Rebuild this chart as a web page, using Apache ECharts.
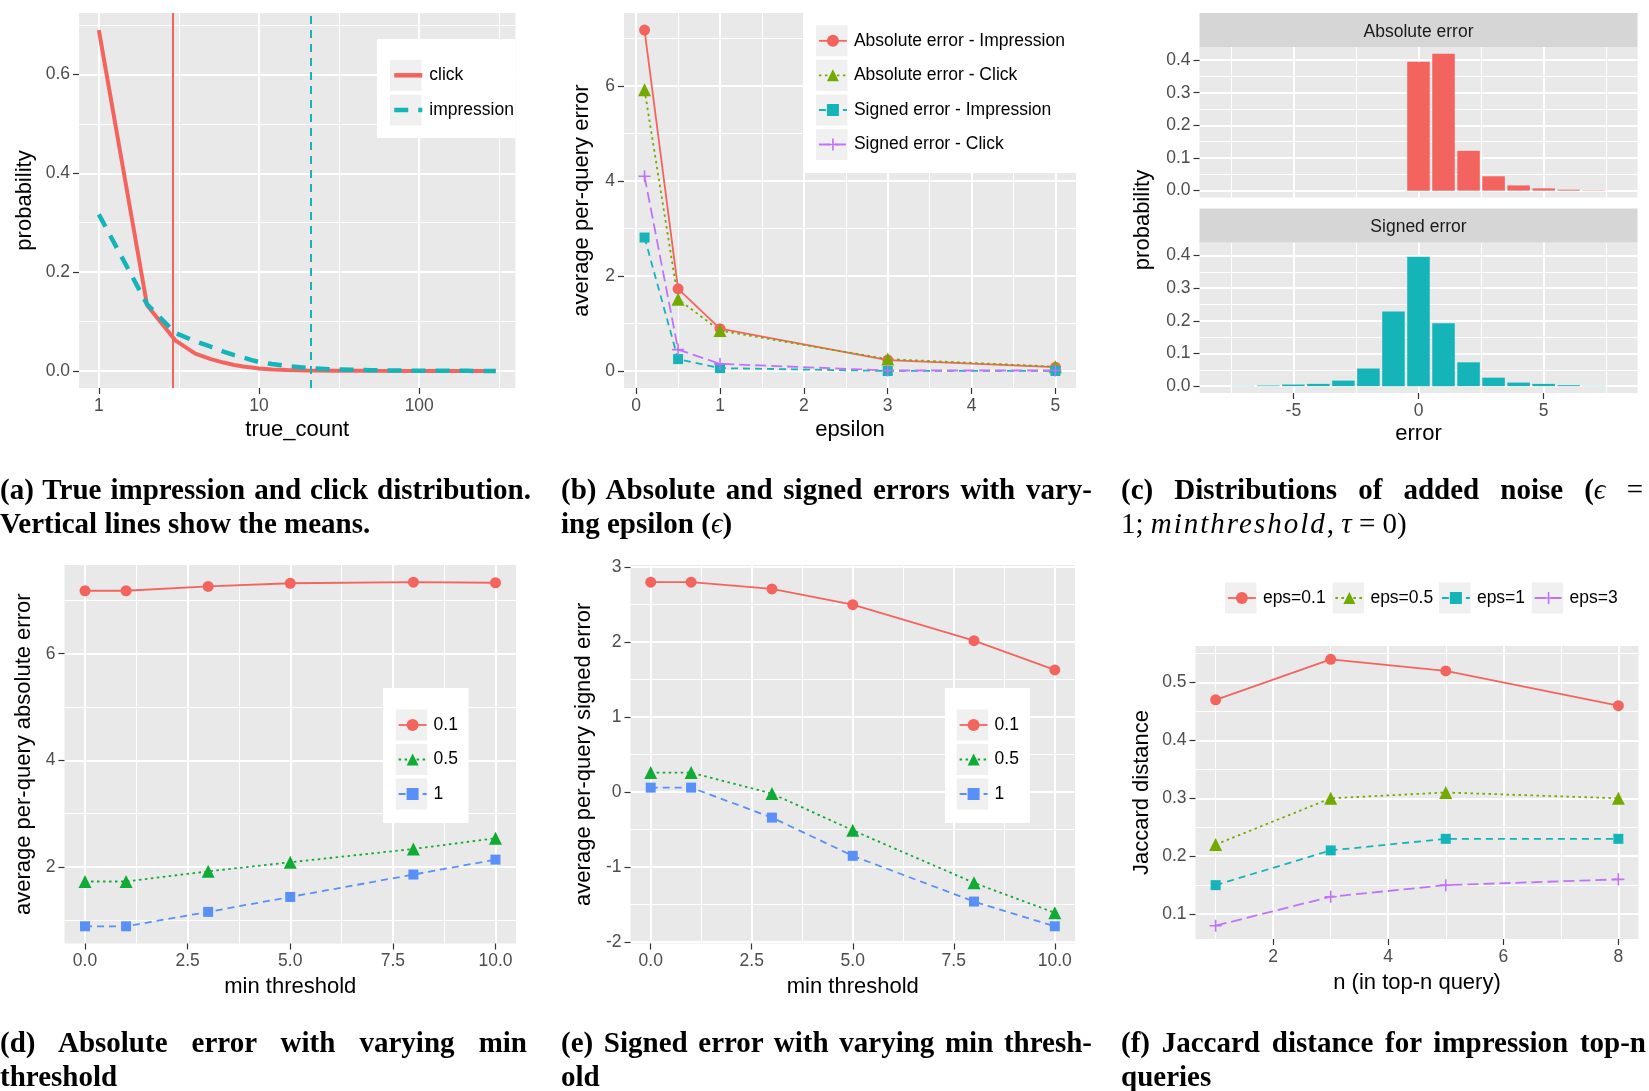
<!DOCTYPE html>
<html>
<head>
<meta charset="utf-8">
<title>noise figures</title>
<script src="https://cdn.jsdelivr.net/npm/echarts@6/dist/echarts.min.js"></script>
<style>
  html, body { margin: 0; padding: 0; background: #fff; }
  #chart { position: absolute; left: 0; top: 0; width: 1649px; height: 1091px; }
  .cap { position: absolute; font-family: 'Liberation Serif', 'DejaVu Serif', serif; font-weight: bold;
         font-size: 29px; line-height: 34px; color: #000; }
  .cap .l1 { text-align: justify; text-align-last: justify; white-space: nowrap; }
  .cap .l2 { white-space: nowrap; }
  .m { font-weight: normal; font-style: italic; }
  .mr { font-weight: normal; }
</style>
</head>
<body>
<div id="chart"></div>

<div class="cap" style="left:0px;top:472px;width:531px">
  <div class="l1">(a) True impression and click distribution.</div>
  <div class="l2">Vertical lines show the means.</div>
</div>
<div class="cap" style="left:561px;top:472px;width:531px">
  <div class="l1">(b) Absolute and signed errors with vary-</div>
  <div class="l2">ing epsilon (<span class="m">ϵ</span>)</div>
</div>
<div class="cap" style="left:1121px;top:472px;width:522px">
  <div class="l1">(c) Distributions of added noise (<span class="m">ϵ</span> <span class="mr">=</span></div>
  <div class="l2"><span class="mr">1;</span> <span class="m" style="letter-spacing:2px">minthreshold</span><span class="mr">,</span> <span class="m">τ</span> <span class="mr">= 0)</span></div>
</div>
<div class="cap" style="left:0px;top:1025px;width:527px">
  <div class="l1">(d) Absolute error with varying min</div>
  <div class="l2">threshold</div>
</div>
<div class="cap" style="left:561px;top:1025px;width:531px">
  <div class="l1">(e) Signed error with varying min thresh-</div>
  <div class="l2">old</div>
</div>
<div class="cap" style="left:1121px;top:1025px;width:525px">
  <div class="l1">(f) Jaccard distance for impression top-n</div>
  <div class="l2">queries</div>
</div>

<script>
// ---- (a) true count distribution
const aCount = [1, 2, 3, 4, 5, 6, 7, 8, 9, 10, 12, 15, 20, 30, 50, 100, 200, 300];
const aClick = [0.69, 0.133, 0.062, 0.035, 0.024, 0.017, 0.012, 0.009, 0.007, 0.005, 0.003, 0.002, 0.001, 0.0004, 0.0002, 0.0001, 0, 0];
const aImpression = [0.317, 0.135, 0.077, 0.06, 0.049, 0.039, 0.032, 0.027, 0.022, 0.018, 0.014, 0.010, 0.006, 0.003, 0.0015, 0.0005, 0.0002, 0];
const aMeans = [2.9, 21];            // click, impression
const aXTicks = [1, 10, 100];
const aXMinor = [3.162, 31.62, 316.2];
const aYTicks = [0, 0.2, 0.4, 0.6];
const aYMinor = [0.1, 0.3, 0.5, 0.7];

// ---- (b) error vs epsilon
const bEps = [0.1, 0.5, 1, 3, 5];
const bAbsImp = [7.18, 1.73, 0.89, 0.23, 0.08];
const bAbsClick = [5.92, 1.51, 0.85, 0.25, 0.09];
const bSignedImp = [2.81, 0.25, 0.06, 0.0, 0.0];
const bSignedClick = [4.1, 0.45, 0.15, 0.01, 0.01];
const bXTicks = [0, 1, 2, 3, 4, 5];
const bXMinor = [0.5, 1.5, 2.5, 3.5, 4.5];
const bYTicks = [0, 2, 4, 6];
const bYMinor = [1, 3, 5, 7];

// ---- (c) noise distributions
const cError = [-7, -6, -5, -4, -3, -2, -1, 0, 1, 2, 3, 4, 5, 6, 7];
const cAbsolute = [0, 0, 0, 0, 0, 0, 0, 0.395, 0.419, 0.122, 0.044, 0.016, 0.007, 0.003, 0.001];
const cSigned = [0.001, 0.002, 0.005, 0.007, 0.017, 0.054, 0.229, 0.396, 0.193, 0.073, 0.026, 0.011, 0.007, 0.003, 0.001];
const cXTicks = [-5, 0, 5];
const cXMinor = [-7.5, -2.5, 2.5, 7.5];
const cYTicks = [0, 0.1, 0.2, 0.3, 0.4];
const cYMinor = [0.05, 0.15, 0.25, 0.35];

// ---- (d), (e) min threshold
const thresholds = [0, 1, 3, 5, 8, 10];
const dEps01 = [7.18, 7.18, 7.26, 7.32, 7.34, 7.33];
const dEps05 = [1.73, 1.73, 1.92, 2.09, 2.34, 2.54];
const dEps1 = [0.89, 0.89, 1.16, 1.44, 1.86, 2.14];
const eEps01 = [2.80, 2.80, 2.71, 2.50, 2.02, 1.63];
const eEps05 = [0.26, 0.26, -0.02, -0.51, -1.21, -1.61];
const eEps1 = [0.06, 0.06, -0.34, -0.85, -1.46, -1.79];
const tXTicks = [0, 2.5, 5, 7.5, 10];
const tXMinor = [1.25, 3.75, 6.25, 8.75];
const dYTicks = [2, 4, 6];
const dYMinor = [1, 3, 5, 7];
const eYTicks = [-2, -1, 0, 1, 2, 3];
const eYMinor = [-1.5, -0.5, 0.5, 1.5, 2.5];

// ---- (f) jaccard distance
const topN = [1, 3, 5, 8];
const fEps01 = [0.47, 0.54, 0.52, 0.46];
const fEps05 = [0.22, 0.30, 0.31, 0.30];
const fEps1 = [0.15, 0.21, 0.23, 0.23];
const fEps3 = [0.08, 0.13, 0.15, 0.16];
const fXTicks = [2, 4, 6, 8];
const fXMinor = [1, 3, 5, 7];
const fYTicks = [0.1, 0.2, 0.3, 0.4, 0.5];
const fYMinor = [0.15, 0.25, 0.35, 0.45, 0.55];

// ---- styling
const FONT = '"Liberation Sans", Arial, sans-serif';
const COL = { red: '#F4645E', green: '#73AA00', teal: '#14B4B8', purple: '#C173F8', green3: '#10AB35', blue: '#5990F8' };
const PANEL = '#E9E9E9';
const PLUS = 'path://M5 0L5 10M0 5L10 5';
const LW = 1.8;

// panel rectangles: a, b, c-top, c-bottom, d, e, f
const panels = [
  { left: 79, top: 13, width: 436.5, height: 375 },
  { left: 624, top: 13, width: 452, height: 375 },
  { left: 1199.5, top: 47, width: 438, height: 150.5 },
  { left: 1199.5, top: 242.5, width: 438, height: 150.5 },
  { left: 64.5, top: 565, width: 451.5, height: 378.5 },
  { left: 630.5, top: 565, width: 444.5, height: 378.5 },
  { left: 1195.5, top: 646, width: 443, height: 293 }
];

// ggplot style 5% padding
function expand(lo, hi) {
  const r = hi - lo;
  return [lo - r * 0.05, hi + r * 0.05];
}
function expandLog(lo, hi) {
  const e = expand(Math.log10(lo), Math.log10(hi));
  return [Math.pow(10, e[0]), Math.pow(10, e[1])];
}
const ext = arrs => expand(Math.min(...arrs.flat()), Math.max(...arrs.flat()));
const pts = (xs, ys) => xs.map((x, i) => [x, ys[i]]);
const fix1 = v => v.toFixed(1);

const xAxes = [];
const yAxes = [];

// one axis carrying ticks/labels/major grid, and a silent twin for minor grid
function addAxis(list, o) {
  const idx = list.length;
  const base = { type: o.type || 'value', gridIndex: o.grid, min: o.range[0], max: o.range[1], position: o.pos };
  if (o.type === 'log') base.logBase = 10;
  const show = o.labels !== false;
  list.push(Object.assign({}, base, {
    axisLine: { show: false, onZero: false },
    axisTick: { show: show, length: 6, lineStyle: { color: '#333333', width: 1.2 }, customValues: o.ticks },
    axisLabel: { show: show, customValues: o.ticks, formatter: o.fmt || (v => String(v)),
                 color: '#4D4D4D', fontSize: 17.5, fontFamily: FONT, margin: 9 },
    splitLine: { show: true, lineStyle: { color: '#FFFFFF', width: 2 } },
    name: o.name || '', nameLocation: 'middle', nameGap: o.gap || 0, nameMoveOverlap: false,
    nameTextStyle: { fontSize: 22, color: '#000000', fontFamily: FONT }
  }));
  list.push(Object.assign({}, base, {
    axisLine: { show: false, onZero: false },
    axisTick: { show: false, customValues: o.minor },
    axisLabel: { show: false },
    splitLine: { show: true, lineStyle: { color: '#FFFFFF', width: 1 } }
  }));
  return idx;
}

const ax = {
  a: [addAxis(xAxes, { grid: 0, pos: 'bottom', type: 'log', range: expandLog(1, 300), ticks: aXTicks, minor: aXMinor, name: 'true_count', gap: 31 }),
      addAxis(yAxes, { grid: 0, pos: 'left', range: ext([aClick, aImpression]), ticks: aYTicks, minor: aYMinor, fmt: fix1, name: 'probability', gap: 43 })],
  b: [addAxis(xAxes, { grid: 1, pos: 'bottom', range: expand(0.1, 5), ticks: bXTicks, minor: bXMinor, name: 'epsilon', gap: 31 }),
      addAxis(yAxes, { grid: 1, pos: 'left', range: ext([bAbsImp, bAbsClick, bSignedImp, bSignedClick]), ticks: bYTicks, minor: bYMinor, name: 'average per-query error', gap: 31 })],
  c1: [addAxis(xAxes, { grid: 2, pos: 'bottom', range: [-8.75, 8.75], ticks: cXTicks, minor: cXMinor, labels: false }),
       addAxis(yAxes, { grid: 2, pos: 'left', range: ext([cAbsolute, cSigned]), ticks: cYTicks, minor: cYMinor, fmt: fix1 })],
  c2: [addAxis(xAxes, { grid: 3, pos: 'bottom', range: [-8.75, 8.75], ticks: cXTicks, minor: cXMinor, name: 'error', gap: 30 }),
       addAxis(yAxes, { grid: 3, pos: 'left', range: ext([cAbsolute, cSigned]), ticks: cYTicks, minor: cYMinor, fmt: fix1 })],
  d: [addAxis(xAxes, { grid: 4, pos: 'bottom', range: expand(0, 10), ticks: tXTicks, minor: tXMinor, fmt: fix1, name: 'min threshold', gap: 32 }),
      addAxis(yAxes, { grid: 4, pos: 'left', range: ext([dEps01, dEps05, dEps1]), ticks: dYTicks, minor: dYMinor, name: 'average per-query absolute error', gap: 30 })],
  e: [addAxis(xAxes, { grid: 5, pos: 'bottom', range: expand(0, 10), ticks: tXTicks, minor: tXMinor, fmt: fix1, name: 'min threshold', gap: 32 }),
      addAxis(yAxes, { grid: 5, pos: 'left', range: ext([eEps01, eEps05, eEps1]), ticks: eYTicks, minor: eYMinor, name: 'average per-query signed error', gap: 36 })],
  f: [addAxis(xAxes, { grid: 6, pos: 'bottom', range: expand(1, 8), ticks: fXTicks, minor: fXMinor, name: 'n (in top-n query)', gap: 33 }),
      addAxis(yAxes, { grid: 6, pos: 'left', range: ext([fEps01, fEps05, fEps1, fEps3]), ticks: fYTicks, minor: fYMinor, fmt: fix1, name: 'Jaccard distance', gap: 43 })]
};

function line(panel, name, xs, ys, color, dash, symbol, size, extra) {
  const s = {
    type: 'line', name: name, xAxisIndex: ax[panel][0], yAxisIndex: ax[panel][1],
    data: pts(xs, ys), symbol: symbol, symbolSize: size, showSymbol: symbol !== 'none',
    lineStyle: { color: color, width: LW, type: dash, cap: 'butt' },
    itemStyle: { color: color, borderColor: color, borderWidth: symbol === PLUS ? 1.6 : 0 },
    emphasis: { disabled: true }, z: 2
  };
  return Object.assign(s, extra || {});
}
function meanLine(value, color, dash) {
  return { silent: true, symbol: ['none', 'none'], label: { show: false }, emphasis: { disabled: true },
           lineStyle: { color: color, width: 2, type: dash }, data: [{ xAxis: value }] };
}
function bars(panel, xs, ys, color) {
  return {
    type: 'custom', xAxisIndex: ax[panel][0], yAxisIndex: ax[panel][1], data: pts(xs, ys),
    encode: { x: 0, y: 1 }, z: 2,
    renderItem: function (params, api) {
      const x = api.value(0), y = api.value(1);
      const p0 = api.coord([x - 0.45, 0]);
      const p1 = api.coord([x + 0.45, y]);
      return { type: 'rect', shape: { x: p0[0], y: p1[1], width: p1[0] - p0[0], height: p0[1] - p1[1] }, style: { fill: color } };
    }
  };
}

const DOT = [2.5, 3.5], DASH = [7, 5], LONG = [11, 5];

const series = [
  line('a', 'click', aCount, aClick, COL.red, 'solid', 'none', 0,
       { lineStyle: { color: COL.red, width: 4, type: 'solid' }, markLine: meanLine(aMeans[0], COL.red, 'solid') }),
  line('a', 'impression', aCount, aImpression, COL.teal, [14, 10], 'none', 0,
       { lineStyle: { color: COL.teal, width: 4.5, type: [14, 10], cap: 'butt' }, markLine: meanLine(aMeans[1], COL.teal, [8, 6]) }),

  line('b', 'Absolute error - Impression', bEps, bAbsImp, COL.red, 'solid', 'circle', 11),
  line('b', 'Absolute error - Click', bEps, bAbsClick, COL.green, DOT, 'triangle', 13),
  line('b', 'Signed error - Impression', bEps, bSignedImp, COL.teal, DASH, 'rect', 10),
  line('b', 'Signed error - Click', bEps, bSignedClick, COL.purple, LONG, PLUS, 12),

  bars('c1', cError, cAbsolute, COL.red),
  bars('c2', cError, cSigned, COL.teal),

  line('d', '0.1', thresholds, dEps01, COL.red, 'solid', 'circle', 11),
  line('d', '0.5', thresholds, dEps05, COL.green3, DOT, 'triangle', 13),
  line('d', '1', thresholds, dEps1, COL.blue, DASH, 'rect', 10),

  line('e', '0.1', thresholds, eEps01, COL.red, 'solid', 'circle', 11),
  line('e', '0.5', thresholds, eEps05, COL.green3, DOT, 'triangle', 13),
  line('e', '1', thresholds, eEps1, COL.blue, DASH, 'rect', 10),

  line('f', 'eps=0.1', topN, fEps01, COL.red, 'solid', 'circle', 11),
  line('f', 'eps=0.5', topN, fEps05, COL.green, DOT, 'triangle', 13),
  line('f', 'eps=1', topN, fEps1, COL.teal, DASH, 'rect', 10),
  line('f', 'eps=3', topN, fEps3, COL.purple, LONG, PLUS, 12)
];

// legend layout: names, key left edge(s), key centre line(s), white box
const legendSpecs = [
  { names: ['click', 'impression'], lefts: [390], cys: [75.3, 110], box: [377, 39, 515.5, 138], hideSymbol: true, lineWidth: 4.5 },
  { names: ['Absolute error - Impression', 'Absolute error - Click', 'Signed error - Impression', 'Signed error - Click'],
    lefts: [816], cys: [40.8, 75.3, 110, 144.5], box: [803, 13, 1076, 173] },
  { names: ['0.1', '0.5', '1'], lefts: [395.7], cys: [725, 759.5, 794], box: [383, 688, 468.5, 823] },
  { names: ['0.1', '0.5', '1'], lefts: [956.7], cys: [725, 759.5, 794], box: [945, 688, 1030, 823] },
  { names: ['eps=0.1', 'eps=0.5', 'eps=1', 'eps=3'], lefts: [1225, 1332.5, 1439, 1531.7], cys: [598] }
];

const legends = [];
const graphics = [];
legendSpecs.forEach(spec => {
  if (spec.box) {
    graphics.push({ type: 'rect', silent: true, z: 3,
      shape: { x: spec.box[0], y: spec.box[1], width: spec.box[2] - spec.box[0], height: spec.box[3] - spec.box[1] },
      style: { fill: '#FFFFFF' } });
  }
  spec.names.forEach((name, i) => {
    const kx = spec.lefts[Math.min(i, spec.lefts.length - 1)];
    const cy = spec.cys[Math.min(i, spec.cys.length - 1)];
    graphics.push({ type: 'rect', silent: true, z: 3,
      shape: { x: kx, y: cy - 15.5, width: 31.5, height: 31 }, style: { fill: '#F0F0F0' } });
    const item = { name: name };
    if (name.indexOf('Signed error - Click') === 0 || name === 'eps=3') {
      item.itemStyle = { borderColor: COL.purple, borderWidth: 1.6 };
    }
    legends.push({
      data: [item], left: kx + 2, top: cy - 10, orient: 'horizontal', padding: 0,
      itemWidth: 28, itemHeight: 15, selectedMode: false, z: 4,
      itemStyle: spec.hideSymbol ? { opacity: 0 } : {},
      lineStyle: { width: spec.lineWidth || LW },
      textStyle: { fontSize: 17.5, fontFamily: FONT, color: '#000000', lineHeight: 20, padding: [0, 0, 0, 2] }
    });
  });
});

// facet strips for (c)
const strips = [
  { text: 'Absolute error', panel: 2 },
  { text: 'Signed error', panel: 3 }
];
strips.forEach(s => {
  const p = panels[s.panel];
  graphics.push({ type: 'rect', silent: true, z: 3,
    shape: { x: p.left, y: p.top - 34, width: p.width, height: 34 }, style: { fill: '#D6D6D6' } });
  graphics.push({ type: 'text', silent: true, z: 3, x: p.left + p.width / 2, y: p.top - 15,
    style: { text: s.text, fontSize: 17.5, fontFamily: FONT, fill: '#1A1A1A', align: 'center', verticalAlign: 'middle' } });
});
// shared y title for (c)
graphics.push({ type: 'text', silent: true, z: 3, x: 1143, y: 220, rotation: Math.PI / 2,
  style: { text: 'probability', fontSize: 22, fontFamily: FONT, fill: '#000000', align: 'center', verticalAlign: 'middle' } });

const chart = echarts.init(document.getElementById('chart'), null, { renderer: 'canvas', width: 1649, height: 1091 });
chart.setOption({
  animation: false,
  backgroundColor: '#FFFFFF',
  textStyle: { fontFamily: FONT },
  grid: panels.map(p => Object.assign({ show: true, backgroundColor: PANEL, borderWidth: 0, containLabel: false, outerBoundsMode: 'none' }, p)),
  xAxis: xAxes,
  yAxis: yAxes,
  legend: legends,
  series: series,
  graphic: graphics
});
</script>
</body>
</html>
